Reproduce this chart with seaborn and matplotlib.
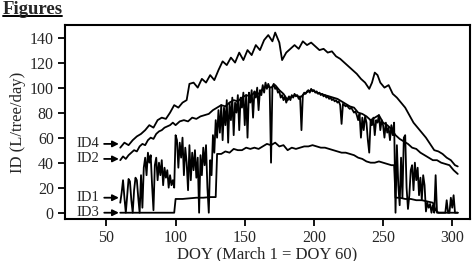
import numpy as np
import pandas as pd
import seaborn as sns
import matplotlib
matplotlib.use("Agg")
import matplotlib.pyplot as plt
from matplotlib.lines import Line2D

# ID4 - top curve
id4_doy = [60, 63, 66, 69, 72, 75, 78, 81, 84, 87, 90, 93, 96, 99, 102, 105, 108, 110,
           113, 116, 119, 122, 125, 128, 131, 134, 137, 140, 143, 146, 149, 152, 155,
           158, 161, 164, 167, 170, 172, 175, 177, 180, 183, 186, 189, 192, 195, 198,
           201, 204, 207, 210, 213, 216, 219, 222, 225, 228, 231, 234, 237, 240, 242,
           244, 246, 248, 251, 254, 257, 260, 263, 266, 269, 272, 275, 278, 281, 284,
           287, 290, 293, 296, 299, 302, 304]
id4_val = [52, 56, 54, 58, 61, 63, 66, 70, 68, 74, 76, 75, 80, 86, 84, 88, 90, 103,
           104, 100, 107, 104, 110, 106, 114, 121, 118, 124, 120, 128, 122, 130, 126,
           134, 130, 138, 142, 137, 144, 136, 122, 128, 131, 134, 131, 137, 134, 136,
           133, 130, 131, 128, 129, 125, 123, 120, 117, 114, 111, 107, 104, 99, 104,
           112, 110, 104, 100, 102, 95, 92, 88, 84, 78, 72, 68, 64, 60, 55,
           50, 49, 47, 44, 42, 38, 37]

# ID2 - second curve
id2_doy = [60, 62, 64, 66, 68, 70, 72, 74, 76, 78, 80, 82, 84, 86, 88, 90, 92, 94, 96,
           98, 100, 103, 106, 109, 112, 115, 118, 121, 124, 127, 130, 133, 136, 139,
           142, 145, 148, 151, 154, 157, 160, 163, 166, 169, 172, 175, 178, 181, 184,
           187, 190, 193, 196, 199, 202, 205, 208, 211, 214, 217, 220, 223, 226, 229,
           232, 235, 238, 241, 244, 247, 250, 253, 256, 259, 262, 265, 268, 271, 274,
           277, 280, 283, 286, 289, 292, 295, 298, 301, 304]
id2_val = [42, 45, 43, 46, 48, 50, 49, 53, 55, 54, 58, 60, 59, 63, 65, 66, 68, 69, 70,
           72, 70, 73, 74, 73, 76, 75, 77, 78, 79, 82, 84, 86, 85, 88,
           90, 89, 92, 94, 93, 96, 95, 99, 101, 100, 102, 98, 95, 90, 93,
           94, 92, 95, 97, 98, 96, 95, 94, 93, 92, 91, 89, 87, 85, 84,
           80, 79, 77, 74, 76, 78, 72, 70, 67, 62, 59, 57, 55, 52, 51,
           48, 46, 44, 42, 42, 40, 39, 38, 34, 31]

# ID3 - bottom smooth curve
id3_doy = [60, 99, 100, 105, 110, 115, 120, 125, 129, 130, 133, 136, 139, 142, 145,
           148, 151, 154, 157, 160, 163, 166, 169, 172, 175, 178, 181, 184, 187, 190,
           193, 196, 199, 202, 205, 208, 211, 214, 217, 220, 223, 226, 229, 232, 235,
           238, 241, 244, 247, 250, 253, 256, 258, 259, 262, 266, 270, 274, 278, 282,
           286, 288, 290, 304]
id3_val = [0, 0, 11, 11, 11.5, 12, 12, 12.5, 12.5, 47, 47, 49, 48, 51, 50,
           50, 52, 51, 52, 51, 53, 55, 54, 56, 53, 54, 50, 52, 51, 52,
           53, 53, 54, 53, 52, 52, 51, 50, 49, 48, 48, 47, 46, 44, 43,
           41, 40, 40, 41, 40, 39, 38, 38, 12, 12, 11, 11, 10, 10, 9,
           8, 2, 0, 0]

# ID1 - fluctuating series, daily from DOY 60 to 304
id1_doy = list(range(60, 305))
id1_val = [8, 16, 26, 12, 0, 14, 27, 25, 10, 0,
           18, 28, 26, 12, 0, 30, 4, 36, 44, 30,
           48, 40, 46, 22, 2, 38, 44, 26, 40, 30,
           42, 22, 36, 28, 34, 20, 30, 22, 26, 20,
           62, 58, 36, 56, 44, 60, 30, 52, 40, 18,
           54, 26, 48, 34, 50, 28, 44, 0, 46, 30,
           52, 38, 54, 20, 0, 42, 30, 62, 48, 74,
           60, 82, 64, 86, 58, 84, 70, 90, 56, 88,
           74, 92, 62, 88, 80, 94, 66, 92, 84, 96,
           70, 94, 60, 96, 88, 98, 76, 97, 92, 100,
           82, 98, 94, 102, 96, 104, 99, 103, 100, 40,
           101, 103, 99, 100, 96, 97, 92, 94, 90, 93,
           88, 91, 93, 90, 94, 92, 95, 93, 94, 91,
           93, 66, 94, 96, 95, 97, 98, 96, 99, 97,
           98, 96, 97, 95, 96, 94, 95, 93, 94, 92,
           93, 91, 92, 90, 91, 89, 90, 88, 89, 86,
           71, 87, 86, 85, 86, 84, 83, 84, 82, 80,
           81, 78, 74, 79, 60, 76, 66, 77, 72, 58,
           48, 74, 70, 76, 62, 74, 72, 78, 66, 74,
           70, 60, 72, 64, 68, 58, 70, 62, 72, 0,
           54, 22, 6, 44, 12, 60, 62, 20, 3, 14,
           34, 38, 18, 40, 26, 36, 14, 28, 10, 30,
           22, 1, 8, 4, 7, 0, 6, 0, 30, 0,
           0, 0, 0, 0, 0, 0, 10, 0, 0, 12,
           4, 14, 0, 0, 0]

# arrow labels at the start of each series
label_names = ["ID4", "ID2", "ID1", "ID3"]
label_vals = [55, 43, 12, 0]

sns.set_style("ticks")
plt.rcParams["font.family"] = ["Liberation Serif", "DejaVu Serif"]

fig = plt.figure(figsize=(4.74, 2.61), dpi=100)
ax = fig.add_axes([0.137, 0.161, 0.855, 0.743])

for d, v in [(id4_doy, id4_val), (id2_doy, id2_val), (id3_doy, id3_val), (id1_doy, id1_val)]:
    sns.lineplot(x=d, y=v, ax=ax, color="black", linewidth=1.3, estimator=None, sort=False)

for name, v in zip(label_names, label_vals):
    ax.annotate(name, xy=(59, v), xytext=(28.5, v), fontsize=10.5, va="center", ha="left",
                arrowprops=dict(arrowstyle="-|>", color="black", lw=1.3,
                                mutation_scale=9, shrinkA=1, shrinkB=0))

ax.set_xlim(20, 313)
ax.set_ylim(-5, 150)
ax.set_xticks([50, 100, 150, 200, 250, 300])
ax.set_yticks([0, 20, 40, 60, 80, 100, 120, 140])
ax.tick_params(labelsize=11.5, length=5, width=1.3, color="black", direction="out", pad=3)
ax.set_xlabel("DOY (March 1 = DOY 60)", fontsize=12, labelpad=0)
ax.set_ylabel("ID (L/tree/day)", fontsize=12, labelpad=3)
for s in ax.spines.values():
    s.set_visible(True)
    s.set_linewidth(1.5)
    s.set_color("black")

fig.text(0.006, 0.995, "Figures", fontsize=13.5, fontweight="bold", va="top", ha="left")
fig.add_artist(Line2D([0.006, 0.131], [0.94, 0.94], color="black", lw=1.4))

fig.savefig("out.png", dpi=100)
